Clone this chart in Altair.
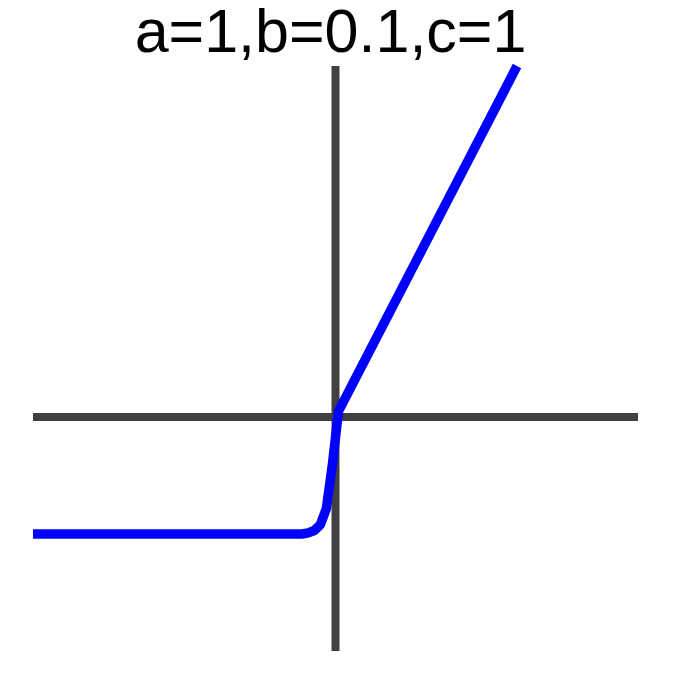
import altair as alt
import pandas as pd

# Curve vertices
curve_x = [-5.0, -0.56, -0.45, -0.35, -0.25, -0.15, -0.05, 0.05, 3.0]
curve_y = [-1.0, -1.0, -0.99, -0.97, -0.92, -0.78, -0.40, 0.05, 3.0]

# Axis extents
x_domain = [-5, 5]
y_domain = [-2, 3]

title_text = "a=1,b=0.1,c=1"

curve = pd.DataFrame({"x": curve_x, "y": curve_y, "order": list(range(len(curve_x)))})
hrule = pd.DataFrame({"x": [x_domain[0]], "x2": [x_domain[1]], "y": [0]})
vrule = pd.DataFrame({"x": [0], "y": [y_domain[0]], "y2": [y_domain[1]]})

xs = alt.Scale(domain=x_domain, nice=False, zero=False)
ys = alt.Scale(domain=y_domain, nice=False, zero=False)

axis_color = "#404040"

h = alt.Chart(hrule).mark_rule(color=axis_color, strokeWidth=8, strokeCap="butt").encode(
    x=alt.X("x:Q", scale=xs, axis=None),
    x2="x2:Q",
    y=alt.Y("y:Q", scale=ys, axis=None),
)
v = alt.Chart(vrule).mark_rule(color=axis_color, strokeWidth=8, strokeCap="butt").encode(
    x=alt.X("x:Q", scale=xs, axis=None),
    y=alt.Y("y:Q", scale=ys, axis=None),
    y2="y2:Q",
)
line = alt.Chart(curve).mark_line(color="#0000ff", strokeWidth=9.5, strokeCap="butt", strokeJoin="round").encode(
    x=alt.X("x:Q", scale=xs, axis=None),
    y=alt.Y("y:Q", scale=ys, axis=None),
    order="order:Q",
)

chart = alt.layer(h, v, line).properties(
    width=605,
    height=585,
    title=alt.TitleParams(
        text=title_text,
        font="Liberation Sans",
        fontSize=61,
        fontWeight="normal",
        color="#000000",
        anchor="middle",
        baseline="alphabetic",
        offset=-52,
        dx=-5,
    ),
    autosize=alt.AutoSizeParams(type="none"),
    padding={"left": 25, "top": 58, "right": 30, "bottom": 10},
    background="white",
).configure_view(strokeWidth=0, stroke="transparent")

chart.save("out.html", embed_options={"renderer": "svg", "actions": False})
